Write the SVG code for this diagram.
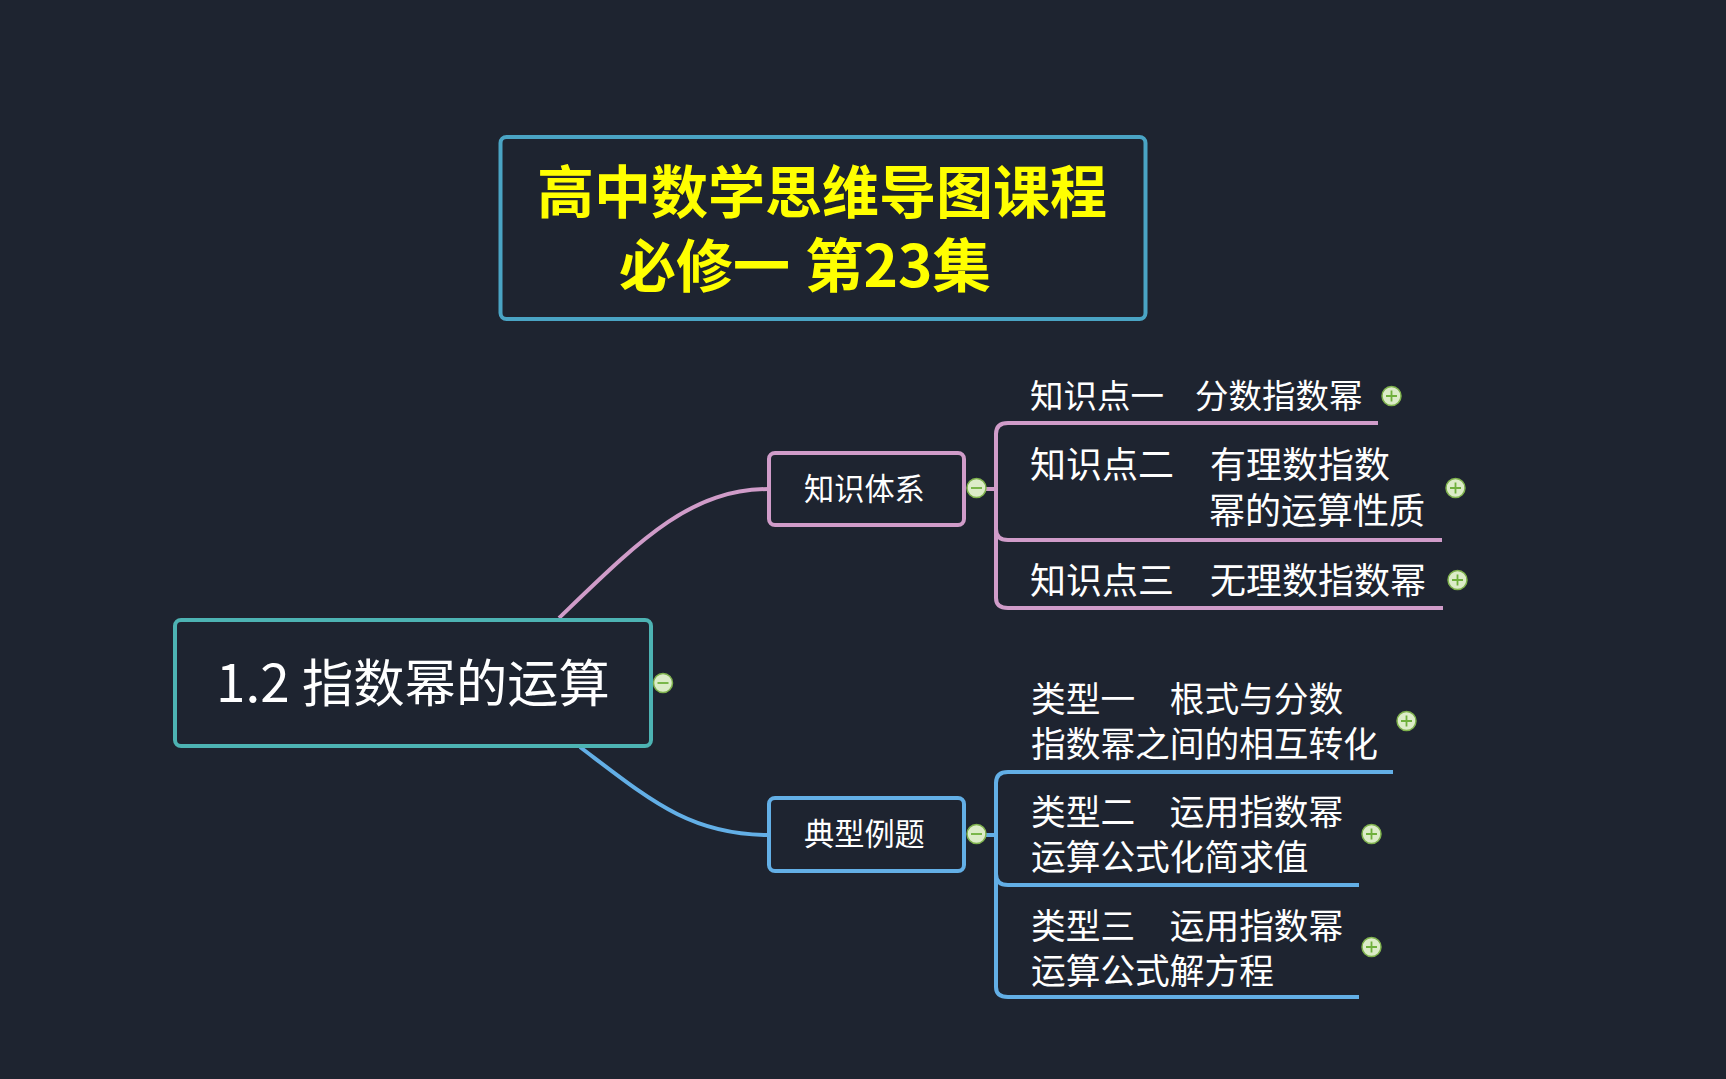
<svg xmlns="http://www.w3.org/2000/svg" width="1726" height="1079" viewBox="0 0 1726 1079">
<defs>
<style>
text{font-family:"Noto Sans CJK SC","Liberation Sans",sans-serif;fill:#fff;font-weight:400}
.t{font-size:34.700px}
.k{font-size:36px}
.box{fill:#1d232e;stroke-width:4}
.pink{stroke:#d09cc9;fill:none;stroke-width:4}
.blue{stroke:#63afe6;fill:none;stroke-width:4}
.tog{fill:#dcecc8;stroke:#7fb24d;stroke-width:1.500}
.sym{stroke:#6fb03c;stroke-width:1.800;fill:none}
.title{font-size:57px;font-weight:700;fill:#ffff00}
</style>
<g id="plus"><circle class="tog" r="9.500"/><path class="sym" d="M-5.500 0H5.500M0-5.500V5.500"/></g>
<g id="minus"><circle class="tog" r="9.500"/><path class="sym" d="M-5.500 0H5.500"/></g>
</defs>
<rect width="1726" height="1079" fill="#1e2430"/>
<g id="connectors">
<path class="pink" d="M559 618C640 540 690 489 769 489"/>
<path class="blue" d="M580 747C650 800 690 835 769 835"/>
<path class="pink" d="M975 489H996"/>
<path class="pink" d="M1378 423H1008Q996 423 996 434V598Q996 608 1008 608H1443"/>
<path class="pink" d="M996 529Q996 540 1008 540H1442"/>
<path class="blue" d="M975 835H996"/>
<path class="blue" d="M1393 772H1008Q996 772 996 783V987Q996 997 1008 997H1359"/>
<path class="blue" d="M996 874Q996 885 1008 885H1359"/>
</g>
<g id="title"><rect x="500.500" y="137" width="645" height="182" rx="6" fill="#1e2430" stroke="#4aa4c4" stroke-width="4"/>
<text class="title" x="537" y="213">高中数学思维导图课程</text>
<text class="title" x="619" y="287">必修一</text><text class="title" x="805" y="287" style="font-size:58.500px">第23集</text></g>
<g id="root"><rect class="box" x="175" y="620" width="476" height="126" rx="6" stroke="#4db3b3" style="fill:#1e2430"/>
<text x="216" y="702" font-size="53">1.2</text><text x="302" y="702" font-size="51.300">指数幂的运算</text><use href="#minus" x="663" y="683"/></g>
<g id="n1"><rect class="box" x="769" y="453" width="195" height="72" rx="6" stroke="#d09cc9" style="fill:#1e2430"/>
<text x="804" y="500" font-size="30.200">知识体系</text><use href="#minus" x="976.500" y="488"/></g>
<g id="n2"><rect class="box" x="769" y="798" width="195" height="73" rx="6" stroke="#63afe6" style="fill:#1e2430"/>
<text x="804" y="845" font-size="30.200">典型例题</text><use href="#minus" x="976.500" y="834"/></g>
<g id="k1"><text x="1030" y="408" font-size="33.500">知识点一</text><text x="1195" y="408" font-size="33.500">分数指数幂</text><use href="#plus" x="1391.500" y="396"/></g>
<g id="k2"><text class="k" x="1030" y="478">知识点二</text><text class="k" x="1210" y="478">有理数指数</text><text class="k" x="1209" y="524">幂的运算性质</text><use href="#plus" x="1455.500" y="488"/></g>
<g id="k3"><text class="k" x="1030" y="594">知识点三</text><text class="k" x="1210" y="594">无理数指数幂</text><use href="#plus" x="1457.500" y="580"/></g>
<g id="e1"><text class="t" x="1031" y="712">类型一　根式与分数</text><text class="t" x="1031" y="757">指数幂之间的相互转化</text><use href="#plus" x="1406.500" y="721"/></g>
<g id="e2"><text class="t" x="1031" y="825">类型二　运用指数幂</text><text class="t" x="1031" y="870">运算公式化简求值</text><use href="#plus" x="1371.500" y="834"/></g>
<g id="e3"><text class="t" x="1031" y="939">类型三　运用指数幂</text><text class="t" x="1031" y="984">运算公式解方程</text><use href="#plus" x="1371.500" y="947"/></g>
</svg>
